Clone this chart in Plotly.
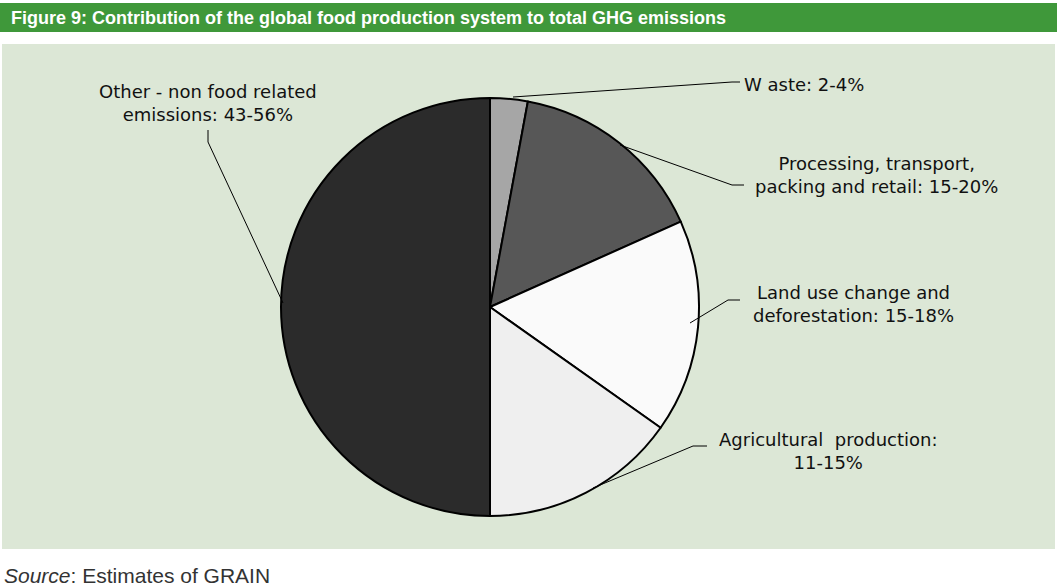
import plotly.graph_objects as go

W, H = 1061, 587

# dados (fatias no sentido horario a partir das 12h)
labels = ["Waste", "Processing, transport, packing and retail",
          "Land use change and deforestation", "Agricultural production",
          "Other - non food related emissions"]
shares = [2.9, 15.4, 16.5, 15.2, 50.0]
label_texts = ["W aste: 2-4%",
               "Processing, transport,<br>packing and retail: 15-20%",
               "Land use change and<br>deforestation: 15-18%",
               "Agricultural  production:<br>11-15%",
               "Other - non food related<br>emissions: 43-56%"]
colors = ["#a6a6a6", "#575757", "#fafafa", "#efefef", "#2b2b2b"]

C_GREEN = "#3f983a"
C_PANEL = "#dce7d6"
C_TEXT = "#111111"
FONT = "DejaVu Sans, Arial, sans-serif"


def px(x):
    return x / W


def py(y):
    return 1 - y / H


fig = go.Figure()

# pizza: centro ~(490, 307), raio ~209 px
cx, cy, r = 490, 307, 209
fig.add_trace(go.Pie(
    labels=labels, values=shares, sort=False, direction="clockwise",
    rotation=0, textinfo="none", hoverinfo="label+percent",
    marker=dict(colors=colors, line=dict(color="#000000", width=2)),
    domain=dict(x=[px(cx - r), px(cx + r)], y=[py(cy + r), py(cy - r)]),
    showlegend=False,
))

shapes = [
    # faixa verde do titulo e painel de fundo
    dict(type="rect", xref="paper", yref="paper", x0=px(0), x1=px(1057),
         y0=py(32), y1=py(3), fillcolor=C_GREEN, line_width=0, layer="below"),
    dict(type="rect", xref="paper", yref="paper", x0=px(2), x1=px(1055),
         y0=py(549), y1=py(44), fillcolor=C_PANEL, line_width=0, layer="below"),
]

# linhas de chamada (pie -> rotulo)
leaders = [
    [(513, 97), (732, 82), (740, 82)],
    [(620, 145), (732, 185), (744, 185)],
    [(690, 323), (728, 300), (740, 300)],
    [(593, 488), (693, 446), (707, 446)],
    [(283, 303), (208, 142), (208, 130)],
]
for pts in leaders:
    path = "M " + " L ".join(f"{px(x)},{py(y)}" for x, y in pts)
    shapes.append(dict(type="path", xref="paper", yref="paper", path=path,
                       line=dict(color="#000000", width=1)))

# posicoes dos rotulos (centro do texto, px)
label_pos = [(742, 84, "left"), (876, 175, "center"), (853, 304, "center"),
             (828, 451, "center"), (208, 103, "center")]
anns = []
for txt, (x, y, al) in zip(label_texts, label_pos):
    anns.append(dict(
        text=txt, x=px(x), y=py(y),
        xref="paper", yref="paper", showarrow=False,
        xanchor="center" if al == "center" else "left", yanchor="middle",
        align="center", font=dict(family=FONT, size=18, color=C_TEXT)))

anns.append(dict(
    text="<b>Figure 9: Contribution of the global food production system to total GHG emissions</b>",
    x=px(9), y=py(18), xref="paper", yref="paper", showarrow=False,
    xanchor="left", yanchor="middle",
    font=dict(family="Liberation Sans, Arial", size=18, color="#ffffff")))
anns.append(dict(
    text="<i>Source</i>: Estimates of GRAIN",
    x=px(2), y=py(575), xref="paper", yref="paper", showarrow=False,
    xanchor="left", yanchor="middle",
    font=dict(family="Liberation Sans, Arial", size=21, color="#333333")))

fig.update_layout(
    width=W, height=H,
    margin=dict(l=0, r=0, t=0, b=0),
    paper_bgcolor="#ffffff", plot_bgcolor="#ffffff",
    shapes=shapes, annotations=anns,
)

# tira a margem padrao do <body> para a figura ocupar a janela inteira
fig.write_html("out.html", config={"displayModeBar": False},
               post_script="document.body.style.margin='0';")
